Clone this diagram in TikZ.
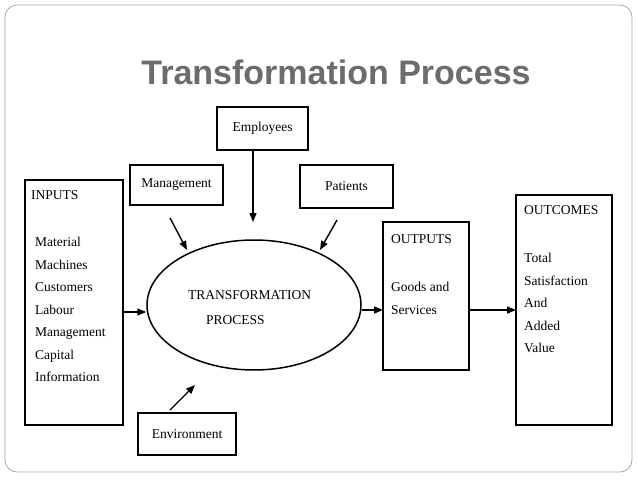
\documentclass[tikz,border=0pt]{standalone}
\usepackage{fontspec}
\setmainfont{Liberation Serif}
\newfontfamily\titlefont{Liberation Sans}
\usetikzlibrary{arrows.meta,shapes.geometric}
\begin{document}
\begin{tikzpicture}[x=1pt,y=-1pt,
  bx/.style={draw,line width=1.5pt,inner sep=0pt},
  fnt/.style={font=\fontsize{13.5}{22.5}\selectfont},
  txt/.style={fnt,align=left,anchor=north west,inner sep=0pt},
  arr/.style={-{Triangle[length=9pt,width=7pt]},line width=1.4pt}]
\useasboundingbox (0,0) rectangle (638,479);
\draw[rounded corners=12pt,gray!70,line width=0.8pt] (5,5) rectangle (632,472);
\node[font=\titlefont\bfseries\fontsize{34}{40}\selectfont,text=gray!85!black] (title) at (336,72) {Transformation Process};
% boxes
\draw[bx] (25,180) rectangle (123,425);
\node[txt] (inp) at (31,190) {INPUTS};
\node[txt] (inpl) at (35,237) {Material\\Machines\\Customers\\Labour\\Management\\Capital\\Information};
\node[bx,fnt,minimum width=93pt,minimum height=40pt] (man) at (176.5,185) {Management};
\node[bx,fnt,minimum width=91pt,minimum height=43pt] (emp) at (262.5,128.5) {Employees};
\node[bx,fnt,minimum width=93pt,minimum height=43pt] (pat) at (346.5,186.5) {Patients};
\node[bx,fnt,minimum width=98pt,minimum height=42pt] (env) at (187,434) {Environment};
\node[draw,ellipse,line width=1.5pt,minimum width=214pt,minimum height=130pt] (tp) at (254,305) {};
\node[txt,font=\fontsize{13.5}{25}\selectfont] (tpl) at (188,290) {TRANSFORMATION\\\hspace*{18pt}PROCESS};
\draw[bx] (383,222) rectangle (469,370);
\node[txt] (outl) at (391,234) {OUTPUTS};
\node[txt] (outs) at (391,282) {Goods and\\Services};
\draw[bx] (516,195) rectangle (612,425);
\node[txt] (oc) at (524,205) {OUTCOMES};
\node[txt] (ocl) at (524,253) {Total\\Satisfaction\\And\\Added\\Value};
\coordinate (inR) at (123,312);
\coordinate (outL) at (383,310);
\coordinate (outR) at (469,310);
\coordinate (ocL) at (516,310);
\coordinate (empA) at (253,150);
% arrows
\draw[arr] (inR) -- (tp.west |- inR);
\draw[arr] (170,218) -- (187,250);
\draw[arr] (empA) -- (253,222);
\draw[arr] (337,220) -- (320,250);
\draw[arr] (170,410) -- (195,385);
\draw[arr] (tp.east |- outL) -- (outL);
\draw[arr] (outR) -- (ocL);
\end{tikzpicture}
\end{document}
